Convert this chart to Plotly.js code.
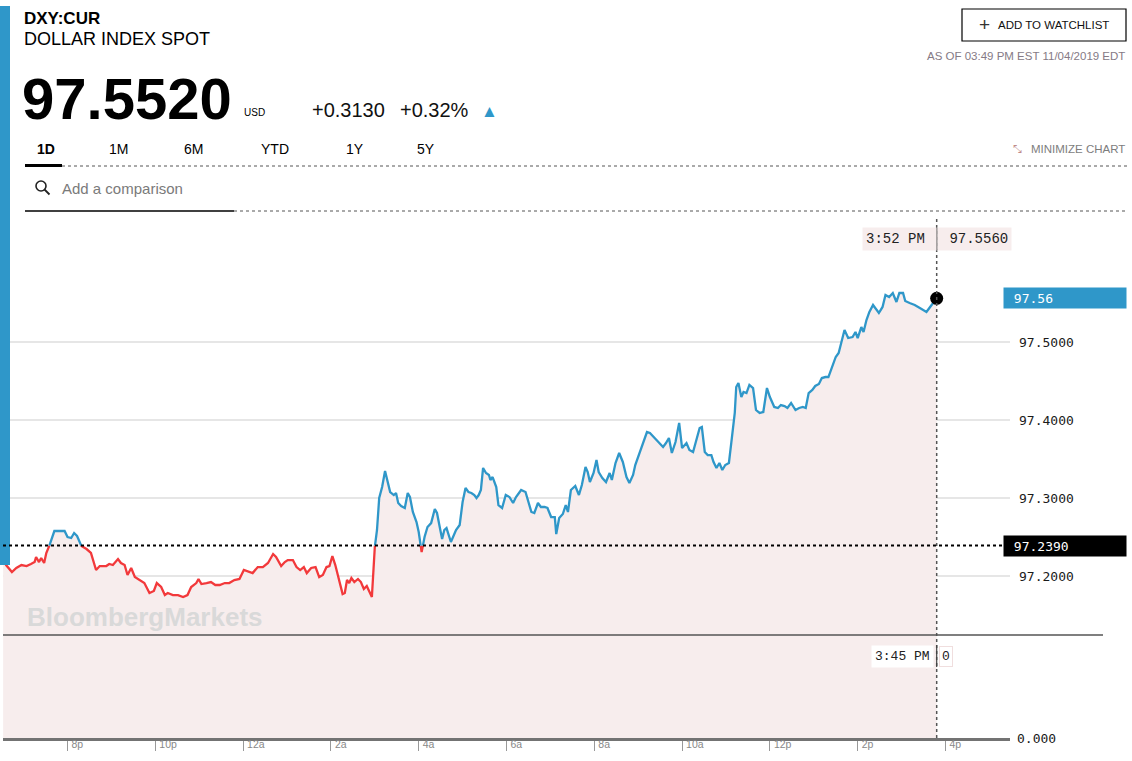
<!DOCTYPE html>
<html>
<head>
<meta charset="utf-8">
<script src="https://cdn.plot.ly/plotly-3.0.1.min.js"></script>
<style>
  html, body { margin: 0; padding: 0; background: #fff; }
  #myDiv { width: 1132px; height: 761px; }
</style>
</head>
<body>
<div id="myDiv"></div>
<script>
// minutes after 6:00 PM on 11/03/2019
var minutes = [
  32, 36, 44, 50, 57, 64, 70, 75, 77, 81,
  84, 88, 91, 95, 99, 102, 109, 116, 120, 125,
  129, 133, 139, 146, 152, 159, 164, 173, 177, 182,
  189, 193, 198, 202, 207, 212, 218, 225, 232, 238,
  242, 248, 253, 257, 264, 271, 278, 284, 289, 296,
  299, 303, 310, 316, 322, 328, 335, 341, 348, 355,
  361, 369, 373, 380, 387, 394, 401, 405, 412, 417,
  421, 428, 433, 438, 443, 447, 453, 459, 464, 469,
  474, 478, 482, 486, 491, 496, 499, 502, 505, 508,
  512, 517, 521, 525, 529, 533, 536, 540, 543, 546,
  550, 554, 558, 561, 566, 569, 572, 576, 581, 585,
  588, 592, 597, 600, 604, 608, 612, 617, 622, 625,
  629, 632, 635, 638, 644, 651, 656, 660, 664, 668,
  672, 676, 679, 682, 685, 688, 692, 696, 698, 701,
  706, 709, 714, 719, 724, 729, 733, 740, 746, 749,
  754, 758, 763, 767, 772, 776, 781, 786, 788, 792,
  797, 801, 804, 808, 814, 819, 823, 828, 831, 834,
  839, 843, 846, 851, 856, 861, 864, 869, 874, 879,
  884, 888, 893, 896, 902, 907, 912, 916, 922, 928,
  934, 938, 942, 946, 951, 956, 960, 966, 970, 975,
  979, 984, 987, 991, 995, 1000, 1003, 1007, 1011, 1015,
  1019, 1024, 1028, 1032, 1034, 1037, 1041, 1044, 1048, 1052,
  1057, 1061, 1066, 1071, 1076, 1080, 1086, 1091, 1095, 1100,
  1104, 1109, 1115, 1120, 1125, 1129, 1133, 1138, 1142, 1147,
  1151, 1156, 1160, 1165, 1170, 1174, 1179, 1182, 1187, 1193,
  1197, 1200, 1205, 1208, 1212, 1216, 1221, 1224, 1229, 1234,
  1238, 1243, 1248, 1253, 1257, 1262, 1265, 1271, 1278, 1285,
  1289, 1294, 1299, 1308
];
var prices = [
  97.2231, 97.2141, 97.2051, 97.2103, 97.2141, 97.2128, 97.2154, 97.2179, 97.2244, 97.2179,
  97.2231, 97.2167, 97.2295, 97.2385, 97.2500, 97.2577, 97.2577, 97.2577, 97.2500, 97.2487,
  97.2551, 97.2513, 97.2385, 97.2346, 97.2295, 97.2077, 97.2128, 97.2128, 97.2154, 97.2141,
  97.2218, 97.2167, 97.2141, 97.2013, 97.2103, 97.1987, 97.1949, 97.1910, 97.1782, 97.1808,
  97.1910, 97.1859, 97.1756, 97.1782, 97.1756, 97.1756, 97.1731, 97.1756, 97.1859, 97.1910,
  97.1962, 97.1897, 97.1910, 97.1923, 97.1885, 97.1885, 97.1910, 97.1910, 97.1949, 97.1962,
  97.2077, 97.2051, 97.2038, 97.2115, 97.2115, 97.2167, 97.2282, 97.2244, 97.2128, 97.2179,
  97.2205, 97.2205, 97.2115, 97.2077, 97.2115, 97.2038, 97.2103, 97.2115, 97.1987, 97.2013,
  97.2115, 97.2128, 97.2256, 97.2141, 97.1949, 97.1769, 97.1782, 97.1949, 97.1910, 97.1974,
  97.1923, 97.1962, 97.1923, 97.1833, 97.1872, 97.1782, 97.1731, 97.2372, 97.2590, 97.3000,
  97.3141, 97.3346, 97.3205, 97.3077, 97.3038, 97.3064, 97.2936, 97.2897, 97.2872, 97.3064,
  97.3013, 97.2821, 97.2692, 97.2564, 97.2308, 97.2500, 97.2628, 97.2679, 97.2859, 97.2808,
  97.2615, 97.2474, 97.2590, 97.2615, 97.2436, 97.2590, 97.2654, 97.2949, 97.3128, 97.3077,
  97.3064, 97.3038, 97.3000, 97.3038, 97.3103, 97.3385, 97.3321, 97.3295, 97.3231, 97.3269,
  97.3141, 97.2910, 97.2872, 97.3038, 97.3013, 97.2936, 97.3013, 97.3103, 97.3077, 97.2974,
  97.2821, 97.2808, 97.2936, 97.2885, 97.2885, 97.2872, 97.2756, 97.2756, 97.2538, 97.2744,
  97.2795, 97.2910, 97.2821, 97.3103, 97.3154, 97.3038, 97.3167, 97.3397, 97.3333, 97.3205,
  97.3321, 97.3487, 97.3333, 97.3256, 97.3205, 97.3321, 97.3231, 97.3449, 97.3577, 97.3462,
  97.3269, 97.3192, 97.3295, 97.3423, 97.3577, 97.3705, 97.3846, 97.3833, 97.3769, 97.3718,
  97.3654, 97.3705, 97.3769, 97.3577, 97.3718, 97.3962, 97.3641, 97.3705, 97.3615, 97.3590,
  97.3744, 97.3897, 97.3910, 97.3590, 97.3551, 97.3551, 97.3462, 97.3385, 97.3449, 97.3359,
  97.3423, 97.3449, 97.3769, 97.4090, 97.4423, 97.4474, 97.4295, 97.4359, 97.4346, 97.4449,
  97.4410, 97.4128, 97.4090, 97.4103, 97.4410, 97.4295, 97.4167, 97.4154, 97.4192, 97.4179,
  97.4154, 97.4218, 97.4128, 97.4154, 97.4167, 97.4154, 97.4346, 97.4385, 97.4436, 97.4462,
  97.4538, 97.4551, 97.4551, 97.4667, 97.4808, 97.4859, 97.5051, 97.5154, 97.5051, 97.5064,
  97.5128, 97.5051, 97.5192, 97.5128, 97.5282, 97.5385, 97.5474, 97.5436, 97.5372, 97.5449,
  97.5603, 97.5577, 97.5628, 97.5513, 97.5628, 97.5628, 97.5526, 97.5500, 97.5474, 97.5436,
  97.5410, 97.5385, 97.5449, 97.5560
];
var prevClose = 97.239;
var volume = [0];

var xTickVals = ['2019-11-03 20:00', '2019-11-03 22:00', '2019-11-04 00:00', '2019-11-04 02:00',
  '2019-11-04 04:00', '2019-11-04 06:00', '2019-11-04 08:00', '2019-11-04 10:00',
  '2019-11-04 12:00', '2019-11-04 14:00', '2019-11-04 16:00'];
var xTickText = ['8p', '10p', '12a', '2a', '4a', '6a', '8a', '10a', '12p', '2p', '4p'];
var yTickVals = [97.2, 97.3, 97.4, 97.5];
var yTickText = ['97.2000', '97.3000', '97.4000', '97.5000'];

function pad(n) { return (n < 10 ? '0' : '') + n; }
function stamp(m) {
  var s = Math.round((18 * 60 + m) * 60);
  var day = 3 + Math.floor(s / 86400);
  s = s % 86400;
  var hh = Math.floor(s / 3600), mm = Math.floor((s % 3600) / 60), ss = s % 60;
  return '2019-11-' + pad(day) + ' ' + pad(hh) + ':' + pad(mm) + ':' + pad(ss);
}

var times = minutes.map(stamp);
var last = times.length - 1;

// split the line where it crosses the previous close
var redX = [], redY = [], blueX = [], blueY = [];
for (var i = 0; i < prices.length; i++) {
  var up = prices[i] >= prevClose;
  if (i > 0) {
    var wasUp = prices[i - 1] >= prevClose;
    if (up !== wasUp) {
      var f = (prevClose - prices[i - 1]) / (prices[i] - prices[i - 1]);
      var xc = stamp(minutes[i - 1] + f * (minutes[i] - minutes[i - 1]));
      redX.push(xc); redY.push(prevClose);
      blueX.push(xc); blueY.push(prevClose);
      if (wasUp) { blueX.push(xc); blueY.push(null); }
      else { redX.push(xc); redY.push(null); }
    }
  }
  if (up) { blueX.push(times[i]); blueY.push(prices[i]); }
  else { redX.push(times[i]); redY.push(prices[i]); }
}

// pixel -> paper helpers (plot area is x 3..1010, y 215..738)
function px(X) { return (X - 3) / 1007; }
function py(Y) { return (738 - Y) / 523; }

var pink = '#f7eded';
var blue = '#2f97c9';
var sans = 'Liberation Sans, Arial, sans-serif';
var mono = 'DejaVu Sans Mono, monospace';

var area = {
  x: times, y: prices, type: 'scatter', mode: 'lines',
  fill: 'tozeroy', fillcolor: pink, line: {width: 0}, hoverinfo: 'skip'
};
var redLine = {
  x: redX, y: redY, type: 'scatter', mode: 'lines',
  line: {color: '#f2393b', width: 2.3}, hoverinfo: 'skip'
};
var blueLine = {
  x: blueX, y: blueY, type: 'scatter', mode: 'lines',
  line: {color: '#2f97c9', width: 2.3}, hoverinfo: 'skip'
};
var lastDot = {
  x: [times[last]], y: [prices[last]], type: 'scatter', mode: 'markers',
  marker: {color: '#000', size: 13}, hoverinfo: 'skip'
};
var vol = {
  x: [times[last]], y: volume, xaxis: 'x', yaxis: 'y2', type: 'scatter', mode: 'markers',
  marker: {opacity: 0}, hoverinfo: 'skip'
};

var data = [area, redLine, blueLine, lastDot, vol];

function txt(text, X, Y, size, opts) {
  var a = {
    text: text, xref: 'paper', yref: 'paper', x: px(X), y: py(Y),
    xanchor: 'left', yanchor: 'middle', showarrow: false,
    font: {family: sans, size: size, color: '#000'}
  };
  for (var k in opts) {
    if (k === 'font') { for (var j in opts.font) a.font[j] = opts.font[j]; }
    else a[k] = opts[k];
  }
  return a;
}

var annotations = [
  txt('<b>DXY:CUR</b>', 22, 18, 17),
  txt('DOLLAR INDEX SPOT', 22, 39, 18),
  txt('<b>97.5520</b>', 20, 99, 58),
  txt('USD', 242, 113, 10),
  txt('+0.3130', 310, 110, 20, {font: {color: '#111'}}),
  txt('+0.32%', 398, 110, 20, {font: {color: '#111'}}),
  txt('▲', 479, 112, 17, {font: {color: blue}}),
  txt('<b>1D</b>', 35, 149, 14),
  txt('1M', 107, 149, 14),
  txt('6M', 182, 149, 14),
  txt('YTD', 259, 149, 14),
  txt('1Y', 344, 149, 14),
  txt('5Y', 415, 149, 14),
  txt('Add a comparison', 60, 188, 15, {font: {color: '#7a7a7a'}}),
  txt('+', 977, 25, 19, {font: {color: '#333'}}),
  txt('ADD TO WATCHLIST', 996, 25, 11.5, {font: {color: '#111'}}),
  txt('AS OF 03:49 PM EST 11/04/2019 EDT', 1127, 56, 11.5, {xanchor: 'right', font: {color: '#857a85'}}),
  txt('⤡', 1011, 149, 11, {font: {family: 'DejaVu Sans', color: '#c08a8a'}}),
  txt('MINIMIZE CHART', 1127, 149, 11.5, {xanchor: 'right', font: {color: '#7d7d7d'}}),
  txt('<b>BloombergMarkets</b>', 25, 617, 26, {font: {color: '#d9d9d9'}}),
  // hover readout at the last point
  {text: '3:52 PM ', xref: 'x', yref: 'paper', x: times[last], y: py(239), xanchor: 'right', yanchor: 'middle',
    showarrow: false, bgcolor: pink, borderpad: 3, font: {family: 'Liberation Mono, monospace', size: 14, color: '#222'}},
  {text: ' 97.5560', xref: 'x', yref: 'paper', x: times[last], y: py(239), xanchor: 'left', yanchor: 'middle',
    showarrow: false, bgcolor: pink, borderpad: 3, font: {family: 'Liberation Mono, monospace', size: 14, color: '#222'}},
  {text: '3:45 PM', xref: 'x', yref: 'paper', x: times[last], y: py(656), xanchor: 'right', yanchor: 'middle',
    showarrow: false, bgcolor: '#fff', borderpad: 3, xshift: -3, font: {family: 'Liberation Mono, monospace', size: 13, color: '#222'}},
  {text: '0', xref: 'x', yref: 'paper', x: times[last], y: py(656), xanchor: 'left', yanchor: 'middle',
    showarrow: false, bgcolor: '#fff', bordercolor: '#f0dede', borderwidth: 1, borderpad: 2, xshift: 2,
    font: {family: 'Liberation Mono, monospace', size: 13, color: '#222'}},
  // right side value boxes
  {text: '&nbsp;97.56', xref: 'paper', yref: 'y', x: px(1003), y: prices[last], xanchor: 'left', yanchor: 'middle',
    showarrow: false, bgcolor: blue, width: 118, height: 16, align: 'left', borderpad: 2,
    font: {family: mono, size: 13, color: '#fff'}},
  {text: '&nbsp;97.2390', xref: 'paper', yref: 'y', x: px(1003), y: prevClose, xanchor: 'left', yanchor: 'middle',
    showarrow: false, bgcolor: '#000', width: 118, height: 16, align: 'left', borderpad: 2,
    font: {family: mono, size: 13, color: '#fff'}}
];

var shapes = [
  {type: 'rect', xref: 'paper', yref: 'paper', x0: px(0), x1: px(10), y0: py(565), y1: py(6),
    fillcolor: blue, line: {width: 0}},
  {type: 'rect', xref: 'paper', yref: 'paper', x0: px(962), x1: px(1126), y0: py(41), y1: py(9),
    line: {color: '#000', width: 1.2}},
  {type: 'line', xref: 'paper', yref: 'paper', x0: px(25), x1: px(62), y0: py(165.5), y1: py(165.5),
    line: {color: '#000', width: 3}},
  {type: 'line', xref: 'paper', yref: 'paper', x0: px(62), x1: px(1127), y0: py(166), y1: py(166),
    line: {color: '#555', width: 1, dash: 'dot'}},
  {type: 'line', xref: 'paper', yref: 'paper', x0: px(25), x1: px(234), y0: py(211), y1: py(211),
    line: {color: '#000', width: 1.5}},
  {type: 'line', xref: 'paper', yref: 'paper', x0: px(234), x1: px(1127), y0: py(211), y1: py(211),
    line: {color: '#555', width: 1, dash: 'dot'}},
  {type: 'circle', xref: 'paper', yref: 'paper', x0: px(36), x1: px(46), y0: py(191), y1: py(181),
    line: {color: '#222', width: 1.6}},
  {type: 'line', xref: 'paper', yref: 'paper', x0: px(44.5), x1: px(49.5), y0: py(189.5), y1: py(194.5),
    line: {color: '#222', width: 1.8}},
  // volume pane background
  {type: 'rect', xref: 'x', yref: 'y2', x0: times[0], x1: times[last], y0: 0, y1: 1,
    fillcolor: pink, line: {width: 0}, layer: 'below'},
  // pane divider
  {type: 'line', xref: 'paper', yref: 'paper', x0: 0, x1: px(1103), y0: py(635), y1: py(635),
    line: {color: '#555', width: 1.5}},
  // previous close
  {type: 'line', xref: 'paper', yref: 'y', x0: 0, x1: px(1002), y0: prevClose, y1: prevClose,
    line: {color: '#000', width: 2, dash: 'dot'}},
  // crosshair
  {type: 'line', xref: 'x', yref: 'paper', x0: times[last], x1: times[last], y0: 0, y1: py(218),
    line: {color: '#555', width: 1.5, dash: 'dot'}},
  {type: 'line', xref: 'x', yref: 'paper', x0: times[last], x1: times[last], y0: py(250), y1: py(228),
    line: {color: '#555', width: 2}},
  {type: 'line', xref: 'x', yref: 'paper', x0: times[last], x1: times[last], y0: py(667), y1: py(645),
    line: {color: '#444', width: 1.2}}
];

var layout = {
  width: 1132,
  height: 761,
  margin: {l: 3, r: 122, t: 215, b: 23},
  paper_bgcolor: '#fff',
  plot_bgcolor: 'rgba(0,0,0,0)',
  showlegend: false,
  xaxis: {
    type: 'date',
    anchor: 'y2',
    range: [stamp(31.8), stamp(1408.2)],
    tickmode: 'array',
    tickvals: xTickVals,
    ticktext: xTickText,
    ticks: 'outside',
    ticklen: 10,
    tickwidth: 1,
    tickcolor: '#999',
    ticklabelposition: 'outside right',
    ticklabelstandoff: -6,
    ticklabelshift: 2,
    tickfont: {family: sans, size: 10.5, color: '#888'},
    showgrid: false,
    zeroline: false,
    showline: true,
    linecolor: '#737373',
    linewidth: 3
  },
  yaxis: {
    domain: [103 / 523, 1],
    anchor: 'x',
    side: 'right',
    range: [97.1244, 97.6628],
    tickmode: 'array',
    tickvals: yTickVals,
    ticktext: yTickText,
    ticks: '',
    ticklabelstandoff: 8,
    tickfont: {family: mono, size: 13, color: '#1a1a1a'},
    gridcolor: '#e6e6e6',
    gridwidth: 2,
    zeroline: false,
    showline: false
  },
  yaxis2: {
    domain: [0, 103 / 523],
    anchor: 'x',
    side: 'right',
    range: [0, 1],
    tickmode: 'array',
    tickvals: [0],
    ticktext: ['0.000'],
    ticks: '',
    ticklabelstandoff: 6,
    tickfont: {family: mono, size: 13, color: '#1a1a1a'},
    showgrid: false,
    zeroline: false,
    showline: false
  },
  shapes: shapes,
  annotations: annotations
};

Plotly.newPlot('myDiv', data, layout, {displayModeBar: false, staticPlot: true});
</script>
</body>
</html>
